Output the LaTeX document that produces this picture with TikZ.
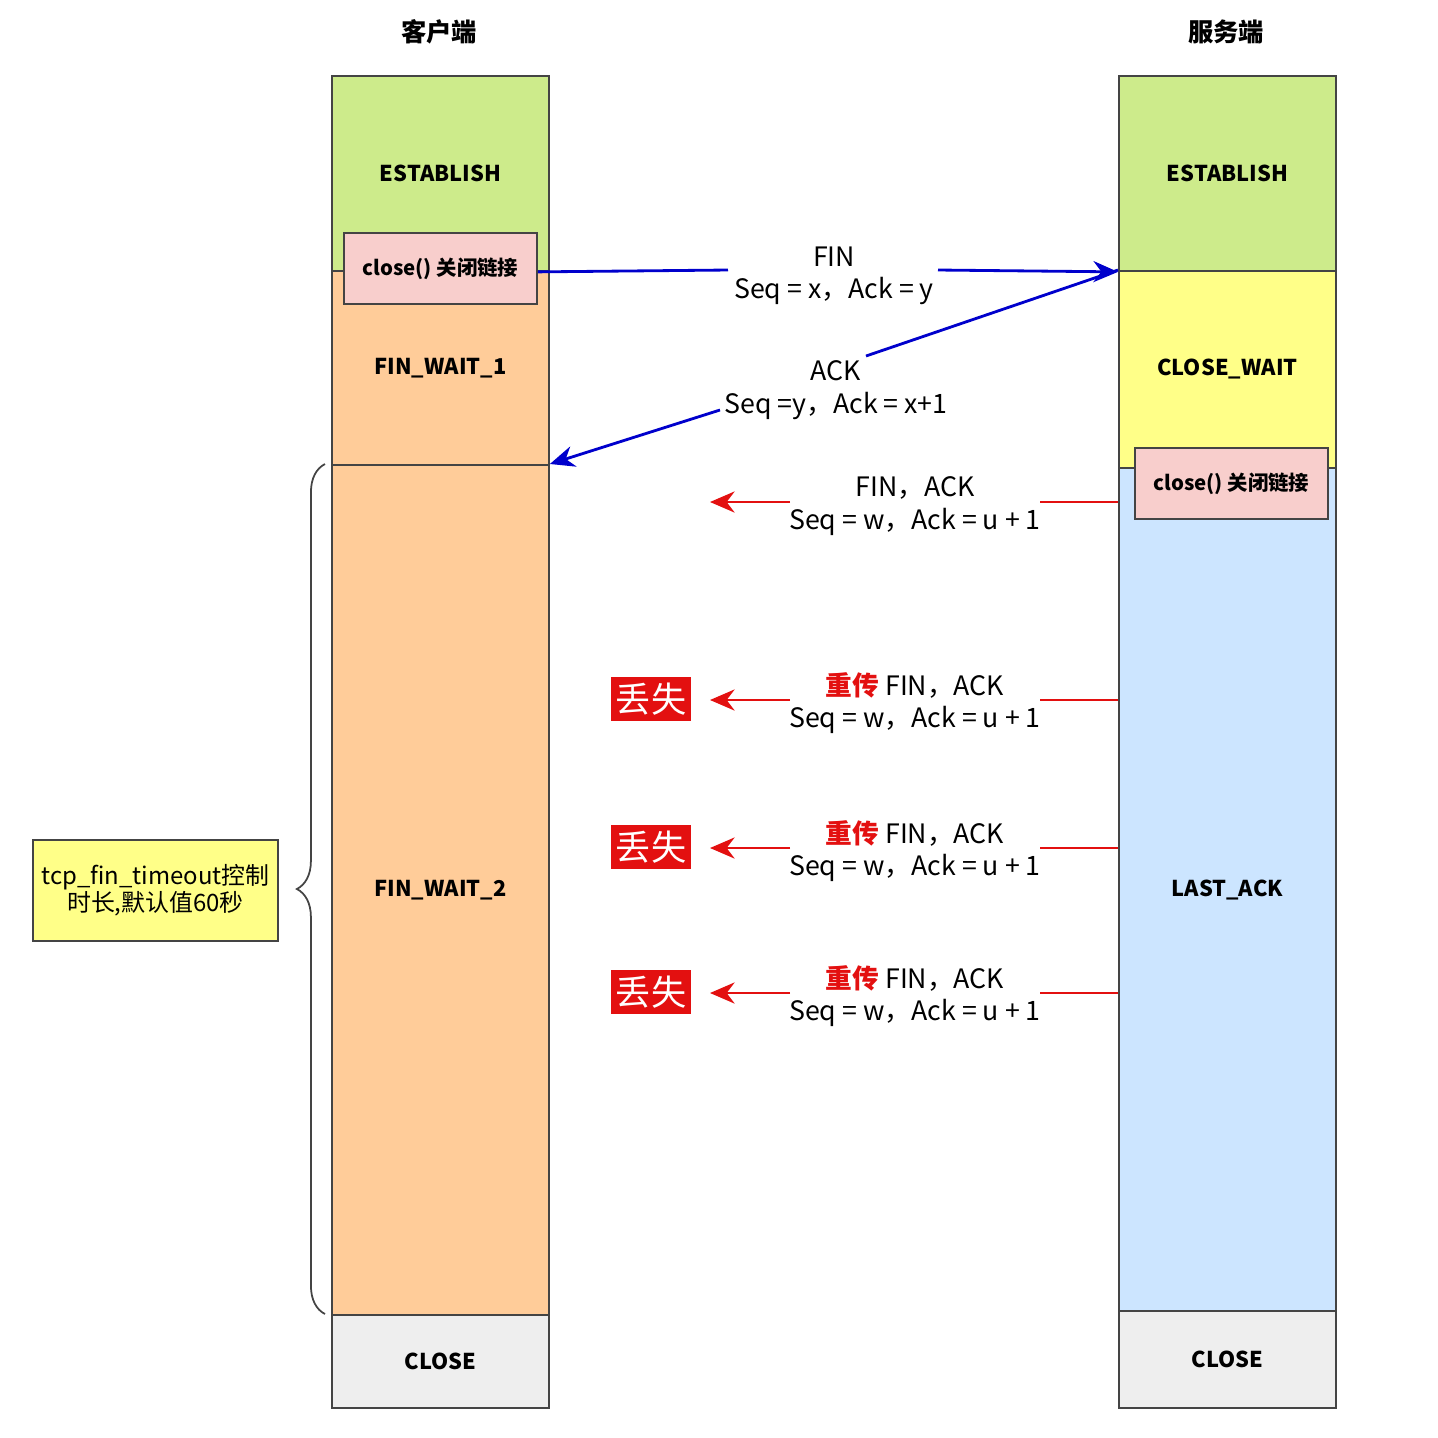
\documentclass[tikz,border=0pt]{standalone}
\usepackage{fontspec}
\setmainfont{Noto Sans CJK SC}
\usetikzlibrary{decorations.pathreplacing,arrows.meta}
\definecolor{cgreen}{HTML}{CDEB8B}
\definecolor{corange}{HTML}{FFCC99}
\definecolor{cyellow}{HTML}{FFFF88}
\definecolor{cblue}{HTML}{CCE5FF}
\definecolor{cgray}{HTML}{EEEEEE}
\definecolor{cpink}{HTML}{F8CECC}
\definecolor{cline}{HTML}{444444}
\definecolor{barrow}{HTML}{0000CC}
\definecolor{rarrow}{HTML}{E31010}
\begin{document}
\begin{tikzpicture}[x=0.01cm,y=-0.01cm,
 st/.style={draw=cline,line width=0.5pt,inner sep=0,font=\fontsize{6.2}{7}\selectfont\bfseries},
 cl/.style={st,font=\fontsize{5.8}{7}\selectfont\bfseries},
 lbl/.style={font=\fontsize{7.6}{9.2}\selectfont,align=center,inner sep=0},
 barr/.style={draw=barrow,line width=0.8pt},
 rarr/.style={draw=rarrow,line width=0.8pt},
 loss/.style={fill=rarrow,text=white,font=\fontsize{10}{11}\selectfont,minimum width=0.8cm,minimum height=0.44cm,inner sep=0}]
\useasboundingbox (0,0) rectangle (1438,1438);
\node[font=\fontsize{7.2}{8}\selectfont\bfseries] (t1) at (439,32) {客户端};
\node[font=\fontsize{7.2}{8}\selectfont\bfseries] (t2) at (1226,32) {服务端};
% client
\node[st,fill=cgreen,minimum width=2.17cm,minimum height=1.95cm,anchor=north west] (c1) at (331,75) {ESTABLISH};
\node[st,fill=corange,minimum width=2.17cm,minimum height=1.94cm,anchor=north west] (c2) at (331,270) {FIN\_WAIT\_1};
\node[st,fill=corange,minimum width=2.17cm,minimum height=8.50cm,anchor=north west] (c3) at (331,464) {FIN\_WAIT\_2};
\node[st,fill=cgray,minimum width=2.17cm,minimum height=0.93cm,anchor=north west] (c4) at (331,1314) {CLOSE};
\node[cl,fill=cpink,minimum width=1.93cm,minimum height=0.71cm,anchor=north west] (cc) at (343,232) {close() 关闭链接};
% server
\node[st,fill=cgreen,minimum width=2.17cm,minimum height=1.95cm,anchor=north west] (s1) at (1118,75) {ESTABLISH};
\node[st,fill=cyellow,minimum width=2.17cm,minimum height=1.97cm,anchor=north west] (s2) at (1118,270) {CLOSE\_WAIT};
\node[st,fill=cblue,minimum width=2.17cm,minimum height=8.43cm,anchor=north west] (s3) at (1118,467) {LAST\_ACK};
\node[st,fill=cgray,minimum width=2.17cm,minimum height=0.97cm,anchor=north west] (s4) at (1118,1310) {CLOSE};
\node[cl,fill=cpink,minimum width=1.93cm,minimum height=0.71cm,anchor=north west] (sc) at (1134,447) {close() 关闭链接};
% FIN
\node[lbl] (l1) at (834,276) {FIN\\Seq = x，Ack = y};
\coordinate (f1) at (728,270); \coordinate (f2) at (938,270);
\draw[barr] (cc.east |- c1.south) -- (f1);
\draw[barr,-{Stealth[length=7pt,width=6pt]}] (f2) -- (s1.south west);
% ACK
\node[lbl] (l2) at (836,390) {ACK\\Seq =y，Ack = x+1};
\coordinate (a1) at (866,356); \coordinate (a2) at (720,410);
\draw[barr] (s2.north west) -- (a1);
\draw[barr,-{Stealth[length=7pt,width=6pt]}] (a2) -- (c3.north east);
% red arrows
\node[lbl] (l3) at (915,506) {FIN，ACK\\Seq = w，Ack = u + 1};
\coordinate (r1a) at (1118,502); \coordinate (r1b) at (1040,502); \coordinate (r1c) at (790,502); \coordinate (r1d) at (710,502);
\draw[rarr] (r1a) -- (r1b);
\draw[rarr,-{Stealth[length=7pt,width=6pt]}] (r1c) -- (r1d);
\foreach \y/\n in {700/a,848/b,993/c}{
 \node[lbl] (m\n) at (915,\y+3) {{\color{rarrow}\bfseries 重传} FIN，ACK\\Seq = w，Ack = u + 1};
 \coordinate (p\n1) at (1118,\y); \coordinate (p\n2) at (1040,\y);
 \coordinate (p\n3) at (790,\y); \coordinate (p\n4) at (710,\y);
 \draw[rarr] (p\n1) -- (p\n2);
 \draw[rarr,-{Stealth[length=7pt,width=6pt]}] (p\n3) -- (p\n4);
 \node[loss] (x\n) at (651,\y-1) {丢失};
}
% brace
\coordinate (b1) at (325,464); \coordinate (b2) at (325,1314);
\draw[cline,line width=0.5pt,decorate,decoration={brace,amplitude=8pt}] (b2) -- (b1);
\node[draw=cline,fill=cyellow,line width=0.5pt,minimum width=2.45cm,minimum height=1.01cm,anchor=north west,align=center,inner sep=0,font=\fontsize{6.8}{7.8}\selectfont] (note) at (32,839) {tcp\_fin\_timeout控制\\时长,默认值60秒};
\end{tikzpicture}
\end{document}
